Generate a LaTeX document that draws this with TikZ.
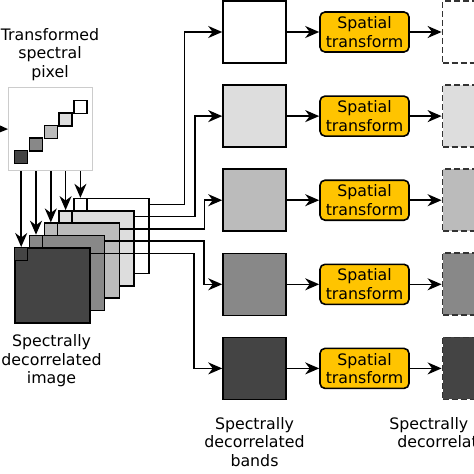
\documentclass[tikz,border=0pt]{standalone}
\usepackage{fontspec}
\setmainfont{DejaVu Sans}
\usetikzlibrary{arrows.meta}
\definecolor{cA}{HTML}{444444}
\definecolor{cB}{HTML}{888888}
\definecolor{cC}{HTML}{BBBBBB}
\definecolor{cD}{HTML}{DDDDDD}
\definecolor{cE}{HTML}{FFFFFF}
\definecolor{styellow}{HTML}{FFC400}
\begin{document}
\begin{tikzpicture}[x=1pt,y=-1pt,line width=1.6pt,
  >={Stealth[length=14pt,width=12pt,inset=4.5pt]},
  lbl/.style={font=\fontsize{15.8}{18.5}\selectfont,align=center,inner sep=0pt},
  band/.style={draw,minimum width=63pt,minimum height=62pt,inner sep=0pt},
  stbox/.style={draw,fill=styellow,rounded corners=5pt,minimum width=89pt,minimum height=40pt,lbl},
  outbox/.style={band,draw=black!80,line width=1.8pt,dash pattern=on 6pt off 3pt},
  layer/.style={draw,minimum size=75pt,inner sep=0pt,anchor=north west},
  corner/.style={draw,minimum size=13pt,inner sep=0pt,anchor=north west,line width=1.4pt},
  pixbox/.style={draw=black!20,line width=1.2pt,minimum width=84pt,minimum height=83pt,inner sep=0pt,anchor=north west}]
\useasboundingbox (0,0) rectangle (474,474);
% transformed spectral pixel
\node[pixbox] (pb) at (8,87) {};
\foreach \i/\c in {0/cA,1/cB,2/cC,3/cD,4/cE}
  \node[corner,fill=\c] (p\i) at ({14+14.8*\i},{149.5-12.4*\i}) {};
\coordinate (inL) at (-20,128.5);
\draw[->] (inL) -- (pb.west);
% image stack
\foreach \i/\c in {4/cE,3/cD,2/cC,1/cB,0/cA}{
  \node[layer,fill=\c] (L\i) at ({14+14.8*\i},{247-12.3*\i}) {};
  \node[corner,fill=\c] (c\i) at (L\i.north west) {};
}
\foreach \i in {0,...,4}
  \draw[->] (c\i.north |- pb.south) -- (c\i.north);
% bands
\foreach \i/\c in {0/cE,1/cD,2/cC,3/cB,4/cA}{
  \node[band,fill=\c] (b\i) at (254.5,{32+84.1*\i}) {};
  \node[stbox] (s\i) at (364.5,{32+84.1*\i}) {Spatial\\transform};
  \node[outbox,fill=\c] (o\i) at (474,{32+84.1*\i}) {};
  \draw[->] (b\i) -- (s\i);
  \draw[->] (s\i) -- (o\i);
}
% wires
\draw[->] ([yshift=-6.5pt]L4.north east) -- ++(34.8,0) |- (b0.west);
\draw[->] ([yshift=-6.5pt]L3.north east) -- ++(60.1,0) |- (b1.west);
\draw[->] ([yshift=-6.5pt]L2.north east) -- ++(84.4,0) |- (b2.west);
\draw[->] ([yshift=-6.5pt]L1.north east) -- ++(98.7,0) |- (b3.west);
\draw[->] ([yshift=-6.5pt]L0.north east) -- ++(103.5,0) |- (b4.west);
% labels
\node[lbl,anchor=north] (t1) at (50,27.5) {Transformed\\spectral\\pixel};
\node[lbl,anchor=north] (t2) at (51.5,334) {Spectrally\\decorrelated\\image};
\node[lbl,anchor=north] (t3) at (254.5,416.5) {Spectrally\\decorrelated\\bands};
\node[lbl,anchor=north west] (t4) at (388.5,416.5) {Spectrally};
\node[lbl,anchor=base west] (t5) at (396.5,447.5) {decorrelated};
\end{tikzpicture}
\end{document}
